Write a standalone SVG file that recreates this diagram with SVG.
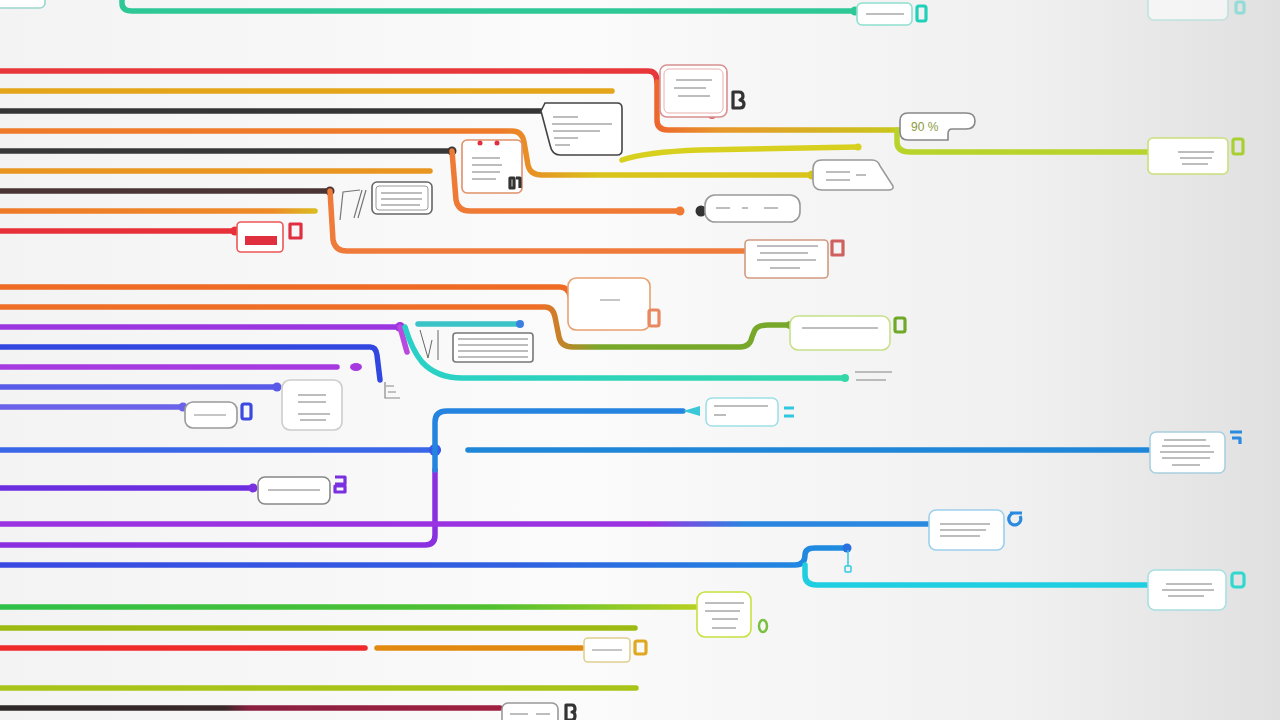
<svg xmlns="http://www.w3.org/2000/svg" width="1280" height="720" viewBox="0 0 1280 720">
<defs>
<linearGradient id="bg" x1="0" y1="0" x2="1" y2="0">
<stop offset="0" stop-color="#f3f3f3"/><stop offset="0.45" stop-color="#fbfbfb"/><stop offset="0.8" stop-color="#f0f0f0"/><stop offset="1" stop-color="#e0e0e0"/>
</linearGradient>
<linearGradient id="gRedY" gradientUnits="userSpaceOnUse" x1="640" y1="0" x2="900" y2="0">
<stop offset="0" stop-color="#ee5a2e"/><stop offset="0.3" stop-color="#e8962a"/><stop offset="1" stop-color="#c8c81c"/>
</linearGradient>
<linearGradient id="gOrY" gradientUnits="userSpaceOnUse" x1="500" y1="0" x2="600" y2="0">
<stop offset="0" stop-color="#ee7a2a"/><stop offset="1" stop-color="#d8c41a"/>
</linearGradient>
<linearGradient id="gOrG" gradientUnits="userSpaceOnUse" x1="540" y1="0" x2="600" y2="0">
<stop offset="0" stop-color="#ee6e28"/><stop offset="1" stop-color="#78a82a"/>
</linearGradient>
<linearGradient id="gTeal" gradientUnits="userSpaceOnUse" x1="400" y1="0" x2="850" y2="0">
<stop offset="0" stop-color="#2ad0c8"/><stop offset="1" stop-color="#34d8a8"/>
</linearGradient>
<linearGradient id="gPB" gradientUnits="userSpaceOnUse" x1="0" y1="0" x2="930" y2="0">
<stop offset="0" stop-color="#9a32e2"/><stop offset="0.7" stop-color="#9a32e2"/><stop offset="0.8" stop-color="#2a84e0"/><stop offset="1" stop-color="#2a8ae0"/>
</linearGradient>
<linearGradient id="gBB" gradientUnits="userSpaceOnUse" x1="0" y1="0" x2="850" y2="0">
<stop offset="0" stop-color="#3a48e2"/><stop offset="0.6" stop-color="#3060e0"/><stop offset="1" stop-color="#1e8ee0"/>
</linearGradient>
<linearGradient id="gGY" gradientUnits="userSpaceOnUse" x1="0" y1="0" x2="700" y2="0">
<stop offset="0" stop-color="#2ec048"/><stop offset="0.7" stop-color="#50c030"/><stop offset="1" stop-color="#b8d020"/>
</linearGradient>
<linearGradient id="gDM" gradientUnits="userSpaceOnUse" x1="0" y1="0" x2="500" y2="0">
<stop offset="0" stop-color="#2e2828"/><stop offset="0.45" stop-color="#3a2828"/><stop offset="0.5" stop-color="#8a2040"/><stop offset="1" stop-color="#a02040"/>
</linearGradient>
<linearGradient id="gOY2" gradientUnits="userSpaceOnUse" x1="0" y1="0" x2="320" y2="0">
<stop offset="0" stop-color="#ee7a28"/><stop offset="0.85" stop-color="#ee8a28"/><stop offset="1" stop-color="#d8c020"/>
</linearGradient>
<style>
.c{fill:none;stroke-width:5.5;stroke-linecap:round;stroke-linejoin:round}
.n{fill:#fff;stroke-width:1.6}
.tx{stroke:#a8a8a8;stroke-width:1.3;fill:none}
.ic{fill:none;stroke-width:3.2;stroke-linejoin:round}
</style>
</defs>
<rect width="1280" height="720" fill="url(#bg)"/>

<g id="connectors">
<path class="c" d="M122,-6 L122,3 Q122,11 132,11 L855,11" stroke="#2ec896"/>
<circle cx="855" cy="11" r="4.5" fill="#2ec896"/>
<path class="c" d="M0,71 L648,71 Q657,71 657,82" stroke="#e8373a"/>
<path class="c" d="M657,82 L657,120 Q657,130 668,130 L899,130" stroke="url(#gRedY)"/>
<path class="c" d="M897,130 L897,142 Q897,152 910,152 L1148,152" stroke="#b8d42a"/>
<circle cx="712" cy="115" r="4" fill="#e06060"/>
<path class="c" d="M0,91 L612,91" stroke="#e4a51a"/>
<path class="c" d="M0,111 L541,111" stroke="#353535"/>
<path class="c" d="M0,131 L512,131 Q522,131 524,142 L528,165 Q530,175 542,175 L812,175" stroke="url(#gOrY)"/>
<circle cx="812" cy="175" r="4.5" fill="#d4c41a"/>
<path class="c" d="M622,160 Q645,152 700,150 L858,147" stroke="#d8d01e" stroke-width="4"/>
<circle cx="858" cy="147" r="3.5" fill="#d8d01e"/>
<path class="c" d="M0,151 L452,151" stroke="#383838"/>
<circle cx="452" cy="151" r="4.5" fill="#383838"/>
<path class="c" d="M452,151 L456,200 Q458,211 470,211 L680,211" stroke="#ef7a35"/>
<circle cx="680" cy="211" r="4.5" fill="#ef7a35"/>
<circle cx="701" cy="211" r="5.5" fill="#333"/>
<path class="c" d="M0,171 L430,171" stroke="#e8961f"/>
<path class="c" d="M0,191 L330,191" stroke="#4a3434"/>
<circle cx="330" cy="191" r="4.5" fill="#4a3434"/>
<path class="c" d="M330,191 L333,240 Q335,251 347,251 L745,251" stroke="#ef7b3a"/>
<path class="c" d="M0,211 L315,211" stroke="url(#gOY2)"/>
<path class="c" d="M0,231 L235,231" stroke="#e8303a"/>
<circle cx="235" cy="231" r="4.5" fill="#e8303a"/>
<path class="c" d="M0,287 L560,287 Q568,287 570,296" stroke="#ee6a25"/>
<path class="c" d="M0,307 L545,307 Q553,307 555,317 L559,337 Q561,347 573,347 L740,347 Q750,347 752,337 L754,332 Q756,325 768,325 L790,325" stroke="url(#gOrG)"/>
<circle cx="790" cy="325" r="4" fill="#78a82a"/>
<path class="c" d="M0,327 L400,327" stroke="#9b35e0"/>
<circle cx="400" cy="327" r="5" fill="#9b35e0"/>
<path class="c" d="M400,327 L407,352" stroke="#b84ae0" stroke-width="4"/>
<path class="c" d="M405,327 Q412,350 422,362 Q437,378 462,378 L845,378" stroke="url(#gTeal)" stroke-width="4.5"/>
<circle cx="845" cy="378" r="4" fill="#34d8a8"/>
<path class="c" d="M418,324 L518,324" stroke="#3ac4c8" stroke-width="2"/>
<circle cx="520" cy="324" r="4" fill="#3a80e0"/>
<path class="c" d="M0,347 L370,347 Q376,347 377,355 L380,380" stroke="#3246e0"/>
<path class="c" d="M0,367 L337,367" stroke="#a63ae0"/>
<ellipse cx="356" cy="367" rx="6" ry="4" fill="#a63ae0"/>
<path class="c" d="M0,387 L277,387" stroke="#5a5ae8"/>
<circle cx="277" cy="387" r="4.5" fill="#5a5ae8"/>
<path class="c" d="M0,407 L183,407" stroke="#6a62e8"/>
<circle cx="183" cy="407" r="4.5" fill="#6a62e8"/>
<path class="c" d="M0,450 L438,450" stroke="#3a66e8"/>
<circle cx="435" cy="450" r="6" fill="#3a5ae8"/>
<path class="c" d="M468,450 L1148,450" stroke="#1f86d8"/>
<path class="c" d="M0,545 L425,545 Q435,545 435,535 L435,470" stroke="#8a30e0"/>
<path class="c" d="M435,470 L435,422 Q435,411 447,411 L683,411" stroke="#2584e0"/>
<path d="M683,411 L700,406 L700,416 Z" fill="#3ac8d8"/>
<path class="c" d="M0,488 L253,488" stroke="#6a2ee0"/>
<circle cx="253" cy="488" r="4.5" fill="#7a30e0"/>
<path class="c" d="M0,524 L928,524" stroke="url(#gPB)"/>
<path class="c" d="M0,565 L795,565 Q805,565 805,555 Q805,548 815,548 L845,548" stroke="url(#gBB)"/>
<circle cx="847" cy="548" r="4.5" fill="#2a70e0"/>
<path class="c" d="M805,565 L805,575 Q805,585 817,585 L1148,585" stroke="#1fcee0"/>
<path d="M848,550 L848,566" stroke="#30c8e0" stroke-width="1.5"/>
<rect x="845" y="566" width="6" height="6" rx="1" fill="none" stroke="#30c8e0" stroke-width="1.5"/>
<path class="c" d="M0,607 L695,607" stroke="url(#gGY)"/>
<path class="c" d="M0,628 L635,628" stroke="#9cba12"/>
<path class="c" d="M0,648 L365,648" stroke="#f02a2a"/>
<path class="c" d="M377,648 L582,648" stroke="#e28a10"/>
<path class="c" d="M0,688 L636,688" stroke="#a8c418"/>
<path class="c" d="M0,708 L500,708" stroke="url(#gDM)"/>
</g>

<g id="node-top-left"><rect class="n" x="-6" y="-12" width="51" height="20" rx="5" stroke="#9ad8cc"/></g>
<g id="node-top-green"><rect class="n" x="857" y="3" width="55" height="22" rx="5" stroke="#8ee0d0"/><path class="tx" d="M866,14 H904" stroke="#30c0a8"/><rect class="ic" x="917" y="6" width="9" height="15" rx="2" stroke="#20d0b8"/></g>
<g id="node-top-right" opacity="0.6"><rect class="n" x="1148" y="-6" width="80" height="26" rx="6" stroke="#a8e0d8"/><rect class="ic" x="1236" y="2" width="8" height="11" rx="2" stroke="#60d8d0"/></g>
<g id="node-pink"><rect class="n" x="660" y="65" width="67" height="52" rx="7" stroke="#d89090"/><rect x="664" y="69" width="59" height="44" rx="5" fill="none" stroke="#e8b0b0" stroke-width="1"/><path class="tx" d="M676,80 H712 M674,88 H706 M678,96 H710"/><path class="ic" d="M733,92 h6 q4,0 4,4 q0,3 -3,4 q4,1 4,4 q0,4 -4,4 h-7 z" stroke="#333"/></g>
<g id="node-90"><path class="n" d="M908,113 H966 Q975,113 975,121 Q975,129 966,129 H952 Q948,129 948,134 V140 H908 Q900,140 900,132 V121 Q900,113 908,113 Z" stroke="#888"/><text x="911" y="131" font-family="Liberation Sans, sans-serif" font-size="12" fill="#8a9a40">90 %</text></g>
<g id="node-green-right"><rect class="n" x="1148" y="138" width="80" height="36" rx="5" stroke="#c8e07a"/><path class="tx" d="M1178,152 H1214 M1180,158 H1212 M1182,164 H1208"/><rect class="ic" x="1233" y="139" width="10" height="15" rx="2" stroke="#a8d030"/></g>
<g id="node-dark"><path class="n" d="M545,103 H617 Q622,103 622,108 V150 Q622,155 617,155 H560 Q552,155 550,145 L541,111 Z" stroke="#444"/><path class="tx" d="M553,117 H578 M552,124 H612 M553,131 H600 M554,138 H578 M555,145 H570" stroke="#777"/></g>
<g id="node-yellow"><path class="n" d="M822,160 H872 Q878,160 880,166 L893,186 Q894,190 888,190 H822 Q813,190 813,181 V169 Q813,160 822,160 Z" stroke="#999"/><path class="tx" d="M826,172 H850 M826,180 H850 M856,175 H866"/></g>
<g id="node-red-dots"><rect class="n" x="462" y="140" width="60" height="53" rx="5" stroke="#e0906a"/><circle cx="480" cy="143" r="2.5" fill="#e03040"/><circle cx="497" cy="143" r="2.5" fill="#e03040"/><path class="tx" d="M472,158 H500 M472,165 H502 M472,172 H500 M472,179 H496"/><path class="ic" d="M510,178 h4 v10 h-4 z M516,178 h4 v10" stroke="#333" stroke-width="2.5"/></g>
<g id="node-pill"><rect class="n" x="705" y="195" width="95" height="27" rx="10" stroke="#999"/><path class="tx" d="M716,208 H730 M742,208 H748 M764,208 H778"/></g>
<g id="node-grey-left"><rect class="n" x="372" y="182" width="60" height="32" rx="5" stroke="#666"/><rect x="376" y="186" width="52" height="24" rx="3" fill="none" stroke="#999" stroke-width="1"/><path class="tx" d="M381,193 H422 M381,199 H422 M381,205 H420" stroke="#888"/><path d="M360,190 L343,192 L340,220 M362,190 L354,218 M366,190 L358,218" fill="none" stroke="#777" stroke-width="1.2"/></g>
<g id="node-orange-box"><rect class="n" x="745" y="240" width="83" height="38" rx="4" stroke="#d29a80"/><path class="tx" d="M757,246 H818 M760,253 H808 M757,260 H816 M770,268 H800"/><path class="ic" d="M832,241 h11 v14 h-11 z" stroke="#d06060" stroke-width="2.5"/></g>
<g id="node-red"><rect class="n" x="237" y="222" width="46" height="30" rx="4" stroke="#e55"/><rect x="245" y="236" width="32" height="9" fill="#e03040"/><path class="ic" d="M290,224 h11 v14 h-11 z" stroke="#e03040"/></g>
<g id="node-orange-big"><rect class="n" x="568" y="278" width="82" height="52" rx="8" stroke="#e8a070"/><path class="tx" d="M600,300 H620"/><rect class="ic" x="649" y="310" width="10" height="16" rx="2" stroke="#e88860" stroke-width="2"/></g>
<g id="node-green"><rect class="n" x="790" y="316" width="100" height="34" rx="8" stroke="#c8e08a"/><path class="tx" d="M802,328 H878"/><rect class="ic" x="895" y="318" width="10" height="14" rx="2" stroke="#70a828"/></g>
<g id="node-text-box"><rect class="n" x="453" y="333" width="80" height="29" rx="3" stroke="#777"/><path class="tx" d="M458,339 H528 M458,345 H528 M458,351 H528 M458,357 H528" stroke="#888"/><path d="M420,330 L428,358 L432,340 M438,330 L438,360" fill="none" stroke="#666" stroke-width="1"/></g>
<g id="node-tiny"><path d="M385,382 V398 H400 M386,386 H394 M388,392 H396" fill="none" stroke="#888" stroke-width="1.2"/></g>
<g id="node-purple-box"><rect class="n" x="282" y="380" width="60" height="50" rx="8" stroke="#ccc"/><path class="tx" d="M298,395 H326 M298,402 H326 M298,414 H330 M300,420 H326" stroke="#c8c8d8"/></g>
<g id="node-blue-small"><rect class="n" x="185" y="402" width="52" height="26" rx="8" stroke="#999"/><path class="tx" d="M194,415 H226"/><rect class="ic" x="242" y="404" width="9" height="15" rx="2" stroke="#3a4ae0"/></g>
<g id="node-cyan-mid"><rect class="n" x="706" y="398" width="72" height="28" rx="6" stroke="#9ee0e8"/><path class="tx" d="M714,406 H768 M714,415 H726" stroke="#c0c0c0"/><path class="ic" d="M784,408 h10 M784,416 h10" stroke="#30c8e0" stroke-width="2.5"/></g>
<g id="node-teal-label"><path class="tx" d="M855,372 H892 M856,380 H886" stroke="#30d0e0"/></g>
<g id="node-blue-right"><rect class="n" x="1150" y="432" width="75" height="41" rx="6" stroke="#a8d0e0"/><path class="tx" d="M1164,440 H1206 M1162,446 H1210 M1160,452 H1214 M1162,458 H1210 M1172,465 H1200" stroke="#c0c0c0"/><path class="ic" d="M1230,432 h12 M1232,438 h8 v6" stroke="#2a8ae0"/></g>
<g id="node-purple-label"><rect class="n" x="258" y="477" width="72" height="27" rx="7" stroke="#888"/><path class="tx" d="M268,490 H320" stroke="#777"/><path class="ic" d="M335,477 h10 v7 h-10 M335,486 h10 v6 h-10 z" stroke="#7a30e0"/></g>
<g id="node-blue-2"><rect class="n" x="929" y="510" width="75" height="40" rx="7" stroke="#9cd0ec"/><path class="tx" d="M940,524 H990 M940,530 H986 M940,536 H980" stroke="#c0c0c0"/><path class="ic" d="M1010,513 h12 M1020,516 a6,6 0 1 1 -6,-3" stroke="#2a8ae0"/></g>
<g id="node-cyan-2"><rect class="n" x="1148" y="570" width="78" height="40" rx="7" stroke="#a8e0e0"/><path class="tx" d="M1166,584 H1212 M1162,590 H1214 M1168,596 H1204" stroke="#c8c8c8"/><rect class="ic" x="1232" y="573" width="12" height="14" rx="3" stroke="#30d8d0"/></g>
<g id="node-lime"><rect class="n" x="697" y="592" width="54" height="45" rx="8" stroke="#c8e040"/><path class="tx" d="M705,603 H744 M705,611 H740 M712,619 H738 M712,628 H736" stroke="#999"/><ellipse cx="763" cy="626" rx="4" ry="6" fill="none" stroke="#7ac040" stroke-width="2.5"/></g>
<g id="node-olive"><rect class="n" x="584" y="638" width="46" height="24" rx="4" stroke="#e0d090"/><path class="tx" d="M592,650 H622" stroke="#c8b870"/><rect class="ic" x="635" y="641" width="11" height="13" rx="2" stroke="#e0a820"/></g>
<g id="node-bottom"><rect class="n" x="502" y="703" width="56" height="30" rx="6" stroke="#999"/><path class="tx" d="M510,714 H528 M536,714 H550"/><path class="ic" d="M566,705 h6 q3,0 3,4 q0,3 -3,3 q3,0 3,4 q0,4 -3,4 h-6 z" stroke="#333"/></g>
</svg>
